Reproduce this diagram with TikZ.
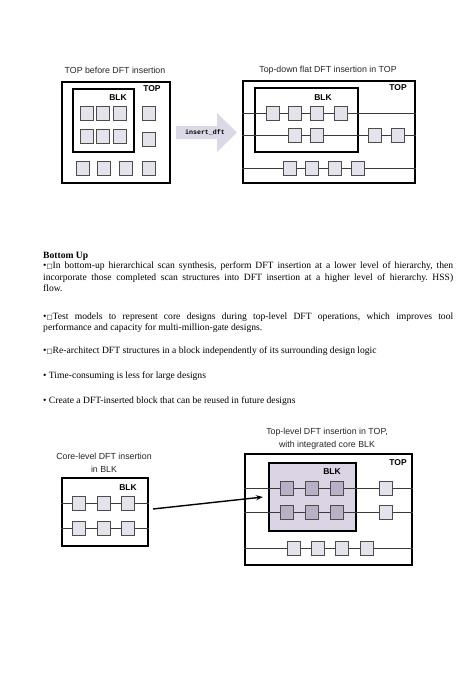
\documentclass[tikz,border=0pt]{standalone}
\usepackage{fontspec}
\setmainfont{Liberation Serif}
\newfontfamily\sansf{Liberation Sans}
\newfontfamily\monof{Liberation Mono}
\newfontfamily\symf{DejaVu Sans}
\usetikzlibrary{arrows.meta}
\definecolor{sqfill}{HTML}{E4E2EA}
\definecolor{sqdark}{HTML}{B9B0C8}
\definecolor{blkfill}{HTML}{DAD4E4}
\definecolor{arrfill}{HTML}{DCD9E6}
\definecolor{wire}{HTML}{3A3A3A}
\frenchspacing
\tikzset{
  bigbox/.style={draw=black, line width=1.3pt, inner sep=0pt},
  sq/.style={draw=gray!60!black, line width=0.6pt, fill=sqfill, minimum width=12.5pt, minimum height=14pt, inner sep=0pt},
  sqd/.style={sq, fill=sqdark},
  wireline/.style={draw=wire, line width=0.9pt},
  lbl/.style={font=\sansf\bfseries\fontsize{8.5}{10}\selectfont, inner sep=0pt},
  ttl/.style={font=\sansf\fontsize{8.8}{12.5}\selectfont, text=black!85, inner sep=0pt, align=center},
  para/.style={font=\fontsize{9.6}{11.4}\selectfont, text width=410pt, align=justify, inner sep=0pt, anchor=north west},
}
\newcommand{\bx}{\mbox{\symf\fontsize{6.5}{8}\selectfont □}}
\begin{document}
\begin{tikzpicture}[x=1pt,y=-1pt]
\useasboundingbox (0,0) rectangle (474,690);
\fill[white] (0,0) rectangle (474,690);

% ---------- Diagram 1: TOP before DFT insertion
\node[ttl] (t1) at (115,70) {TOP before DFT insertion};
\node[bigbox, minimum width=108pt, minimum height=101pt] (top1) at (116,132.5) {};
\node[lbl] (top1l) at (152,89) {TOP};
\node[bigbox, minimum width=61pt, minimum height=63pt] (blk1) at (103.5,120.5) {};
\node[lbl] (blk1l) at (118,98) {BLK};
\node[sq] (a11) at (87,113) {};
\node[sq] (a12) at (103,113) {};
\node[sq] (a13) at (120,113) {};
\node[sq] (a21) at (87,136) {};
\node[sq] (a22) at (103,136) {};
\node[sq] (a23) at (120,136) {};
\node[sq] (ar1) at (149,113) {};
\node[sq] (ar2) at (149,139) {};
\node[sq] (ab1) at (83,168) {};
\node[sq] (ab2) at (104,168) {};
\node[sq] (ab3) at (126,168) {};
\node[sq] (ab4) at (149,168) {};

% big arrow
\fill[arrfill] (176,126) -- (217,126) -- (217,113) -- (237,132.5) -- (217,152) -- (217,139) -- (176,139) -- cycle;
\node[font=\monof\bfseries\fontsize{6.6}{8}\selectfont, inner sep=0pt] (ins) at (205,132) {insert\_dft};

% ---------- Diagram 2: Top-down flat DFT insertion
\node[ttl] (t2) at (328,70) {Top-down flat DFT insertion in TOP};
\node[bigbox, minimum width=172pt, minimum height=102pt] (top2) at (329,132) {};
\node[lbl] (top2l) at (398,88) {TOP};
\node[bigbox, minimum width=103pt, minimum height=64pt] (blk2) at (306.5,120) {};
\node[lbl] (blk2l) at (323,98) {BLK};
\coordinate (w1a) at (top2.west |- 0,113); \coordinate (w1b) at (top2.east |- 0,113);
\coordinate (w2a) at (top2.west |- 0,135); \coordinate (w2b) at (top2.east |- 0,135);
\coordinate (w3a) at (top2.west |- 0,168); \coordinate (w3b) at (top2.east |- 0,168);
\draw[wireline] (w1a) -- (w1b);
\draw[wireline] (w2a) -- (w2b);
\draw[wireline] (w3a) -- (w3b);
\node[sq] (b11) at (273,113) {};
\node[sq] (b12) at (295,113) {};
\node[sq] (b13) at (317,113) {};
\node[sq] (b14) at (341,113) {};
\node[sq] (b21) at (295,135) {};
\node[sq] (b22) at (317,135) {};
\node[sq] (b23) at (375,135) {};
\node[sq] (b24) at (398,135) {};
\node[sq] (b31) at (290,168) {};
\node[sq] (b32) at (312,168) {};
\node[sq] (b33) at (335,168) {};
\node[sq] (b34) at (358,168) {};

% ---------- Text
\node[para, font=\bfseries\fontsize{9.6}{11.4}\selectfont] (p0) at (43,250) {\strut Bottom Up};
\node[para] (p1) at (43,260.5) {\strut •\bx In bottom-up hierarchical scan synthesis, perform DFT insertion at a lower level of hierarchy, then\linebreak incorporate those completed scan structures into DFT insertion at a higher level of hierarchy. HSS)\linebreak flow.};
\node[para] (p2) at (43,311) {\strut •\bx Test models to represent core designs during top-level DFT operations, which improves tool\linebreak performance and capacity for multi-million-gate designs.};
\node[para] (p3) at (43,345) {\strut •\bx Re-architect DFT structures in a block independently of its surrounding design logic};
\node[para] (p4) at (43,370) {\strut • Time-consuming is less for large designs};
\node[para] (p5) at (43,395) {\strut • Create a DFT-inserted block that can be reused in future designs};

% ---------- Diagram 3: Core-level DFT insertion in BLK
\node[ttl] (t3) at (104,463) {Core-level DFT insertion\\in BLK};
\node[bigbox, minimum width=86pt, minimum height=68pt] (blkc) at (105,512) {};
\node[lbl] (blkcl) at (128,488) {BLK};
\coordinate (c1a) at (blkc.west |- 0,503); \coordinate (c1b) at (blkc.east |- 0,503);
\coordinate (c2a) at (blkc.west |- 0,528); \coordinate (c2b) at (blkc.east |- 0,528);
\draw[wireline] (c1a) -- (c1b);
\draw[wireline] (c2a) -- (c2b);
\node[sq] (c11) at (79,503) {};
\node[sq] (c12) at (104,503) {};
\node[sq] (c13) at (128,503) {};
\node[sq] (c21) at (79,528) {};
\node[sq] (c22) at (104,528) {};
\node[sq] (c23) at (128,528) {};

% ---------- Diagram 4: Top-level with integrated core
\node[ttl] (t4) at (327,438.5) {Top-level DFT insertion in TOP,\\with integrated core BLK};
\node[bigbox, minimum width=167pt, minimum height=111pt] (top4) at (328.5,509.5) {};
\node[lbl] (top4l) at (398,463) {TOP};
\node[bigbox, fill=blkfill, minimum width=87pt, minimum height=68pt] (blk4) at (312.5,497) {};
\node[lbl] (blk4l) at (332,472) {BLK};
\coordinate (d1a) at (top4.west |- 0,488); \coordinate (d1b) at (top4.east |- 0,488);
\coordinate (d2a) at (top4.west |- 0,512); \coordinate (d2b) at (top4.east |- 0,512);
\coordinate (d3a) at (top4.west |- 0,548); \coordinate (d3b) at (top4.east |- 0,548);
\draw[wireline] (d1a) -- (d1b);
\draw[wireline] (d2a) -- (d2b);
\draw[wireline] (d3a) -- (d3b);
\node[sqd] (e11) at (287,488) {};
\node[sqd] (e12) at (312,488) {};
\node[sqd] (e13) at (337,488) {};
\node[sqd] (e21) at (287,512) {};
\node[sqd] (e22) at (312,512) {};
\node[sqd] (e23) at (337,512) {};
\node[sq] (er1) at (386,488) {};
\node[sq] (er2) at (386,512) {};
\node[sq] (e31) at (294,548) {};
\node[sq] (e32) at (318,548) {};
\node[sq] (e33) at (342,548) {};
\node[sq] (e34) at (367,548) {};

% connector
\coordinate (arrs) at (153,509);
\coordinate (arre) at (263,497);
\draw[line width=1.4pt, -{Stealth[length=7pt,width=5pt]}] (arrs) -- (arre);
\end{tikzpicture}
\end{document}
